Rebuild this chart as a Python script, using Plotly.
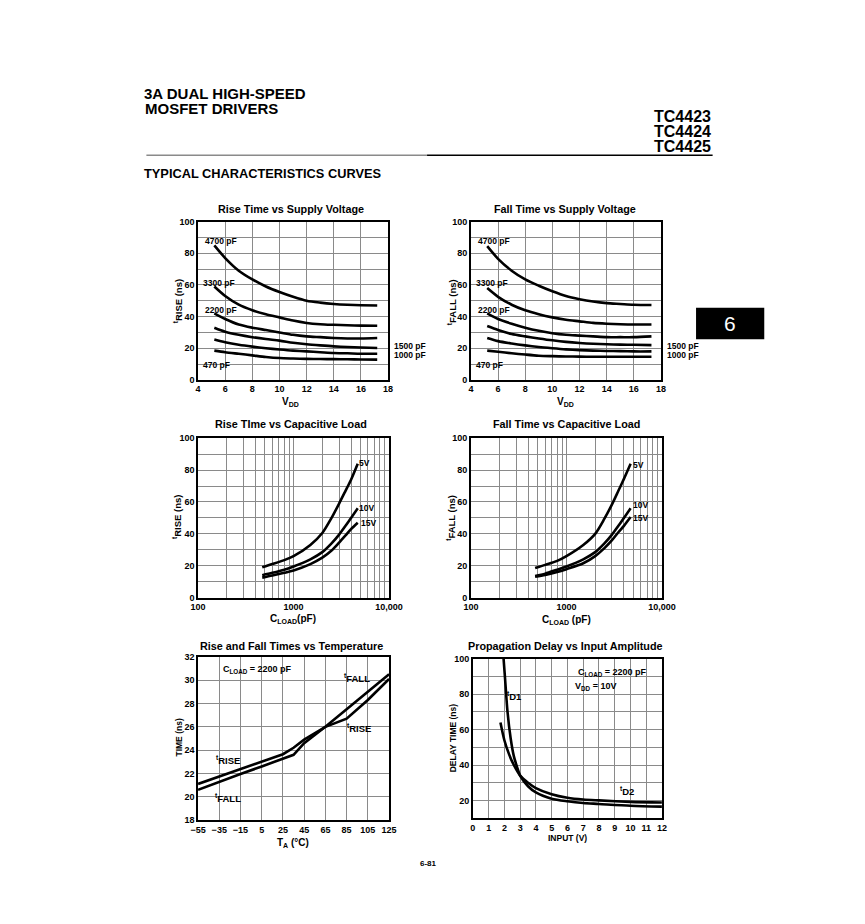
import plotly.graph_objects as go

W, H = 865, 924
FONT = "Liberation Sans"

def px(x):
    return x / W

def py(y):
    return 1 - y / H

# ---------------- DATA ----------------
vdd_rise = [5.2, 6, 7, 8, 9, 10, 11, 12, 13, 14, 15, 16, 17.2]
rise_4700 = [85, 77, 69, 63.5, 59, 55.5, 52.5, 50, 48.8, 48, 47.5, 47.2, 47]
rise_3300 = [59, 53, 47.5, 44, 41.5, 39.5, 37.5, 36, 35.2, 34.8, 34.5, 34.3, 34.2]
rise_2200 = [42, 38.5, 35, 33, 31.5, 30, 28.5, 27.5, 27, 26.5, 26.2, 26.2, 26.5]
rise_1500 = [33, 30.5, 28.5, 27, 25.8, 24.8, 23.5, 22.5, 21.8, 21.2, 20.8, 20.5, 20.2]
rise_1000 = [25.5, 23.8, 22.2, 21, 20, 19.2, 18.5, 18, 17.5, 17, 16.8, 16.5, 16.5]
rise_470 = [18.5, 17.5, 16.5, 15.5, 14.5, 13.8, 13.5, 13.3, 13.2, 13.1, 13, 12.9, 12.8]

vdd_fall = [5.2, 6, 7, 8, 9, 10, 11, 12, 13, 14, 15, 16, 17.3]
fall_4700 = [84.5, 76.5, 69, 63.5, 59.5, 56, 53, 51, 49.5, 48.5, 48, 47.5, 47.3]
fall_3300 = [58, 52.5, 47.5, 44, 41.5, 39.5, 38, 37, 36, 35.5, 35.2, 35, 35]
fall_2200 = [42, 38.5, 35.5, 33, 31, 29.5, 28.5, 28, 27.5, 27, 27, 27, 27.5]
fall_1500 = [34, 31.5, 29, 27.5, 26.2, 25, 24, 23.3, 22.8, 22.5, 22.3, 22.2, 22]
fall_1000 = [26.5, 24.5, 23, 21.8, 20.8, 20, 19.3, 18.8, 18.5, 18.3, 18.2, 18, 18]
fall_470 = [18.5, 17.8, 16.8, 16, 15.3, 15, 14.8, 14.7, 14.6, 14.6, 14.6, 14.6, 14.6]

cload = [470, 600, 800, 1000, 1500, 2000, 2500, 3000, 3500, 4000, 4700]
crise_5v = [19, 21, 23.5, 26, 33, 40.5, 50, 59, 67, 74, 84]
crise_10v = [14, 15.5, 17.5, 19.5, 24, 28.5, 34, 39.5, 45, 50, 56]
crise_15v = [12.5, 13.8, 15.5, 17, 21, 25, 29.5, 34.5, 39, 43, 47]
cfall_5v = [18.5, 20.5, 23, 26, 33, 40, 49.5, 58.5, 67, 74.5, 84]
cfall_10v = [13.5, 15, 17.5, 19.5, 24, 28.5, 34, 39.5, 45, 50, 56]
cfall_15v = [13, 14.2, 16, 17.8, 21.5, 26, 31, 36, 41, 45, 50.5]

temp = [-55, -35, -15, 5, 25, 35, 45, 65, 85, 105, 125]
temp_rise = [21.1, 21.75, 22.4, 23.0, 23.65, 24.2, 24.9, 26.0, 26.7, 28.3, 30.1]
temp_fall = [20.6, 21.3, 21.95, 22.6, 23.3, 23.6, 24.6, 26.0, 27.5, 29.0, 30.5]

vin_d1 = [1.95, 2.05, 2.2, 2.4, 2.6, 2.8, 3.0, 3.5, 4, 5, 6, 7, 8, 10, 12]
td1 = [100, 88, 70, 55, 45, 39, 34, 28, 24.5, 21, 19.5, 18.5, 18, 17, 16.5]
vin_d2 = [1.75, 2.0, 2.3, 2.6, 3.0, 3.5, 4, 5, 6, 7, 8, 10, 12]
td2 = [64, 54, 46, 40, 34, 30, 27, 23.5, 21.5, 20.5, 20, 19.2, 18.8]

vdd_ticks = [4, 6, 8, 10, 12, 14, 16, 18]
t100_vals = [0, 10, 20, 30, 40, 50, 60, 70, 80, 90, 100]
t100_text = ["0", "", "20", "", "40", "", "60", "", "80", "", "100"]
cload_vals = [100, 200, 300, 400, 500, 600, 700, 800, 900, 1000,
              2000, 3000, 4000, 5000, 6000, 7000, 8000, 9000, 10000]
cload_text = ["100"] + [""] * 8 + ["1000"] + [""] * 8 + ["10,000"]
temp_ticks = [-55, -35, -15, 5, 25, 45, 65, 85, 105, 125]
time_ticks = [18, 20, 22, 24, 26, 28, 30, 32]
input_ticks = list(range(0, 13))
delay_vals = [10, 20, 30, 40, 50, 60, 70, 80, 90, 100]
delay_text = ["", "20", "", "40", "", "60", "", "80", "", "100"]

# ---------------- FIGURE ----------------
fig = go.Figure()

def add(x, y, ax, shape="spline"):
    ln = dict(color="black", width=2.6, shape=shape)
    if shape == "spline":
        ln["smoothing"] = 0.8
    fig.add_trace(go.Scatter(x=x, y=y, xaxis="x" + ax, yaxis="y" + ax, mode="lines",
                             line=ln, showlegend=False, hoverinfo="skip"))

for s in [rise_4700, rise_3300, rise_2200, rise_1500, rise_1000, rise_470]:
    add(vdd_rise, s, "")
for s in [fall_4700, fall_3300, fall_2200, fall_1500, fall_1000, fall_470]:
    add(vdd_fall, s, "2")
for s in [crise_5v, crise_10v, crise_15v]:
    add(cload, s, "3")
for s in [cfall_5v, cfall_10v, cfall_15v]:
    add(cload, s, "4")
add(temp, temp_rise, "5", "linear")
add(temp, temp_fall, "5", "linear")
add(vin_d1, td1, "6")
add(vin_d2, td2, "6")

GRID = "#8a8a8a"
TICKF = dict(family=FONT, size=9, color="black", weight="bold")

def axis(dom, **kw):
    d = dict(domain=dom, showline=True, linecolor="black", linewidth=1.5, mirror=True,
             showgrid=True, gridcolor=GRID, gridwidth=1, zeroline=False, ticks="",
             tickfont=TICKF, fixedrange=True, tickmode="array")
    d.update(kw)
    return d

def xd(a, b):
    return [px(a), px(b)]

def yd(top, bottom):
    return [py(bottom), py(top)]

layout = dict(
    width=W, height=H, margin=dict(l=0, r=0, t=0, b=0),
    paper_bgcolor="white", plot_bgcolor="white",
    font=dict(family=FONT, color="black"),
    xaxis=axis(xd(195, 390), anchor="y", range=[4, 18], tickvals=vdd_ticks),
    yaxis=axis(yd(219, 379), anchor="x", range=[0, 100], tickvals=t100_vals, ticktext=t100_text),
    xaxis2=axis(xd(475, 670), anchor="y2", range=[4, 18], tickvals=vdd_ticks),
    yaxis2=axis(yd(219, 379), anchor="x2", range=[0, 100], tickvals=t100_vals, ticktext=t100_text),
    xaxis3=axis(xd(195, 391), anchor="y3", type="log", range=[2, 4], tickvals=cload_vals, ticktext=cload_text),
    yaxis3=axis(yd(438, 599), anchor="x3", range=[0, 100], tickvals=t100_vals, ticktext=t100_text),
    xaxis4=axis(xd(475, 671), anchor="y4", type="log", range=[2, 4], tickvals=cload_vals, ticktext=cload_text),
    yaxis4=axis(yd(438, 599), anchor="x4", range=[0, 100], tickvals=t100_vals, ticktext=t100_text),
    xaxis5=axis(xd(195, 391), anchor="y5", range=[-55, 125], tickvals=temp_ticks),
    yaxis5=axis(yd(659, 824), anchor="x5", range=[18, 32], tickvals=time_ticks),
    xaxis6=axis(xd(477, 671), anchor="y6", range=[0, 12], tickvals=input_ticks),
    yaxis6=axis(yd(661, 822), anchor="x6", range=[10, 100], tickvals=delay_vals, ticktext=delay_text),
)
fig.update_layout(**layout)

ann = []

def T(x, y, text, size=9, angle=0, bold=True, color="black"):
    """x, y = centre of the text in page pixels."""
    ann.append(dict(x=px(x), y=py(y), xref="paper", yref="paper",
                    text=("<b>%s</b>" % text) if bold else text,
                    showarrow=False, xanchor="center", yanchor="middle", align="center",
                    textangle=angle, font=dict(family=FONT, size=size, color=color)))

# Header
T(223, 89, "3A DUAL HIGH-SPEED", 15)
T(209, 105, "MOSFET DRIVERS", 15)
T(692, 113, "TC4423", 16)
T(692, 128, "TC4424", 16)
T(692, 143, "TC4425", 16)
T(261, 170, "TYPICAL CHARACTERISTICS CURVES", 12.8)
T(431, 868, "6-81", 8)
T(741, 322, "6", 21, bold=False, color="white")

# Chart titles
T(290, 206, "Rise Time vs Supply Voltage", 10.8)
T(572, 206, "Fall Time vs Supply Voltage", 10.8)
T(290, 424, "Rise TIme vs Capacitive Load", 10.8)
T(573, 424, "Fall Time vs Capacitive Load", 10.8)
T(291, 648, "Rise and Fall Times vs Temperature", 10.8)
T(572, 648, "Propagation Delay vs Input Amplitude", 10.8)

# Axis titles
T(290, 401, "V<sub>DD</sub>", 10)
T(572, 401, "V<sub>DD</sub>", 10)
T(292, 621, "C<sub>LOAD</sub>(pF)", 10)
T(573, 622, "C<sub>LOAD</sub> (pF)", 10)
T(292, 847, "T<sub>A</sub> (°C)", 10)
T(574, 842, "INPUT (V)", 8.5)
T(174, 300, "<sup>t</sup>RISE (ns)", 9.5, -90)
T(455, 300, "<sup>t</sup>FALL (ns)", 9.5, -90)
T(174, 518, "<sup>t</sup>RISE (ns)", 9.5, -90)
T(455, 518, "<sup>t</sup>FALL (ns)", 9.5, -90)
T(175, 741, "TIME (ns)", 8.5, -90)
T(457, 741, "DELAY TIME (ns)", 8.5, -90)

# Curve labels charts 1/2
for dx in [0, 280]:
    T(219 + dx, 239, "4700 pF", 8.5)
    T(217 + dx, 281, "3300 pF", 8.5)
    T(219 + dx, 308, "2200 pF", 8.5)
    T(214 + dx, 364, "470 pF", 8.5)
    T(413 + dx, 345, "1500 pF", 8.5)
    T(413 + dx, 354, "1000 pF", 8.5)

# Chart 3/4 labels
T(366, 463, "5V", 8.5)
T(368, 508, "10V", 8.5)
T(370, 524, "15V", 8.5)
T(647, 465, "5V", 8.5)
T(649, 505, "10V", 8.5)
T(649, 519, "15V", 8.5)

# Chart 5 labels
T(256, 672, "C<sub>LOAD</sub> = 2200 pF", 9)
T(358, 680, "<sup>t</sup>FALL", 9.5)
T(360, 731, "<sup>t</sup>RISE", 9.5)
T(226, 763, "<sup>t</sup>RISE", 9.5)
T(226, 802, "<sup>t</sup>FALL", 9.5)

# Chart 6 labels
T(620, 675, "C<sub>LOAD</sub> = 2200 pF", 9)
T(603, 689, "V<sub>DD</sub> = 10V", 9)
T(520, 699, "<sup>t</sup>D1", 9.5)
T(635, 795, "<sup>t</sup>D2", 9.5)

fig.update_layout(annotations=ann)

shapes = [
    dict(type="line", xref="paper", yref="paper", x0=px(142), x1=px(430), y0=py(152), y1=py(152),
         line=dict(color="#8a8a8a", width=1.5)),
    dict(type="line", xref="paper", yref="paper", x0=px(430), x1=px(723), y0=py(152), y1=py(152),
         line=dict(color="black", width=1.5)),
    dict(type="rect", xref="paper", yref="paper", x0=px(706), x1=px(776), y0=py(338), y1=py(306),
         fillcolor="black", line=dict(width=0), layer="below"),
]
fig.update_layout(shapes=shapes)

fig.write_html("out.html")
